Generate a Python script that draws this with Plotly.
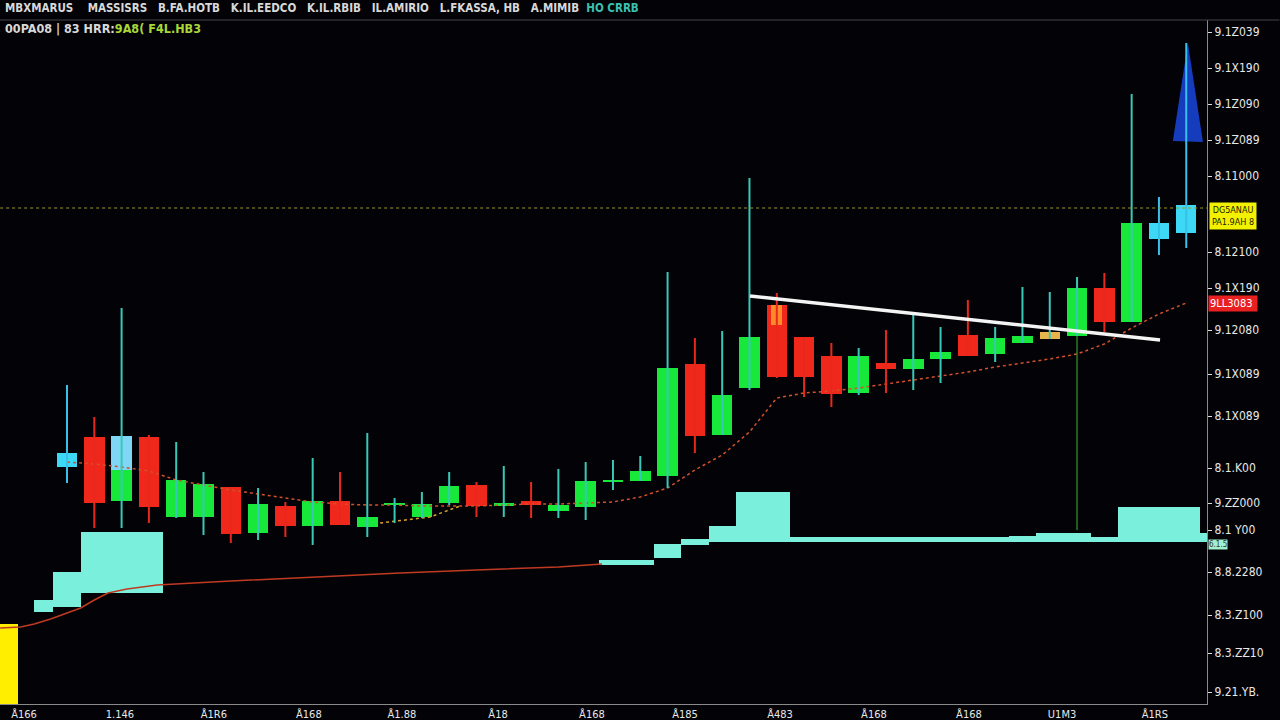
import plotly.graph_objects as go

# ---------------- data ----------------
opens  = [233,263,199,263,183,183,213,167,194,174,199,173,195,183,197,215,194,199,189,193,
          218,219,224,336,265,312,395,363,344,307,337,331,341,365,346,357,361,364,412,378,461,467]
highs  = [315,283,392,265,258,228,213,212,198,242,228,267,202,208,228,218,234,218,231,238,
          240,244,428,362,369,522,407,363,357,352,370,385,373,400,373,413,408,423,427,606,503,657]
lows   = [217,172,172,177,182,165,157,160,163,155,175,163,177,182,195,183,183,182,182,180,
          210,219,212,247,265,310,322,303,293,305,307,310,317,344,338,357,361,364,368,378,445,452]
closes = [247,197,264,193,220,216,166,196,174,199,175,183,197,196,214,194,197,195,195,219,
          220,229,332,264,305,363,323,323,306,344,331,341,348,344,362,364,368,412,378,477,477,495]
kinds  = ['cyan','down','up','down','up','up','down','up','down','up','down','up','up','up','up',
          'down','up','down','up','up','up','up','up','down','up','up','down','down','down','up',
          'down','up','up','down','up','up','gold','up','down','up','cyan','cyan']

ma1 = [238,236,233,229,220,215,210,206,202,198,196,195,195,194,194,194,195,196,196,197,
       198,203,212,230,245,268,302,307,309,312,316,320,324,328,333,337,341,346,356,372,386,397]

ma2_x = [-2.45,-1.7,-1.2,-0.6,0.0,0.5,1.0,1.5,2.2,3.3,6.0,9.0,12.2,15.0,18.0,19.6]
ma2_y = [72,73,76,81,87,92,100,107,111,115,119,123,127,130,133,136]

ma3_x = [11.47,12.5,13.3,14.4]
ma3_y = [177,180,183,194]

vol_x  = [-0.86,0,1,2,3,20,21,22,23,24,25,26,27,28,29,30,31,32,33,34,35,36,37,38,39,40,41,42]
vol_w  = [0.7]+[1.0]*27
vol_lo = [88,93,107,107,107,135,135,142,155,158,158,158,158,158,158,158,158,158,158,158,158,158,158,158,158,158,158,158]
vol_hi = [100,128,168,168,168,140,140,156,161,174,208,208,163,163,163,163,163,163,163,163,164,167,167,163,193,193,193,167]

side_x, side_w, side_lo, side_hi = [-2.12], [0.66], [-4], [76]

hl_x = [2, 26]
hl_w = [0.74, 0.4]
hl_lo = [230, 375]
hl_hi = [264, 395]
hl_col = ['#7fd6f5', '#ff8a2a']

tail_x, tail_lo, tail_hi = [37], [170], [364]

level = 492
trend_x = [25.02, 40.04]
trend_y = [404, 360]
spike_x = [40.51, 41.06, 41.61, 40.51]
spike_y = [559, 657, 558, 559]

ytick_vals = [668,632,596,560,524,448,412,370,326,284,232,197,170,128,85,47,8]
ytick_text = ['9.1Z039','9.1X190','9.1Z090','9.1Z089','8.11000','8.12100','9.1X190','9.12080',
              '9.1X089','8.1X089','8.1.K00','9.ZZ000','8.1 Y00','8.8.2280','8.3.Z100','8.3.ZZ10','9.21.YB.']
xtick_vals = [-1.575,1.94,5.38,8.86,12.27,15.79,19.23,22.64,26.12,29.56,33.04,36.45,39.85]
xtick_text = ['Å166','1.146','Å1R6','Å168','Å1.88','Å18','Å168','Å185','Å483','Å168','Å168','U1M3','Å1RS']

# ---------------- figure ----------------
BODY = {'up': '#18e83a', 'down': '#f0281c', 'cyan': '#3cd8f5', 'gold': '#e6b44a'}
WICK = {'up': '#38c8b8', 'down': '#e8281c', 'cyan': '#38c0e8', 'gold': '#40c8c0'}
idx = list(range(len(opens)))

fig = go.Figure()

fig.add_trace(go.Scatter(x=ma2_x, y=ma2_y, mode='lines', line=dict(color='#c03a22', width=1.5), hoverinfo='skip'))

fig.add_trace(go.Bar(x=vol_x, width=vol_w, base=vol_lo, y=[h - l for h, l in zip(vol_hi, vol_lo)],
                     marker=dict(color='#7af0dc', line=dict(width=0)), hoverinfo='skip'))
fig.add_trace(go.Bar(x=side_x, width=side_w, base=side_lo, y=[h - l for h, l in zip(side_hi, side_lo)],
                     marker=dict(color='#ffee00', line=dict(width=0)), hoverinfo='skip'))

fig.add_trace(go.Scatter(x=idx, y=ma1, mode='lines', line=dict(color='#d2502a', width=1.5, dash='dot'), hoverinfo='skip'))
fig.add_trace(go.Scatter(x=ma3_x, y=ma3_y, mode='lines', line=dict(color='#d8a030', width=1.5, dash='dot'), hoverinfo='skip'))

fig.add_trace(go.Scatter(x=spike_x, y=spike_y, mode='lines', fill='toself', fillcolor='rgba(25,70,220,0.85)',
                         line=dict(width=0, color='rgba(25,70,220,0.85)'), hoverinfo='skip'))

# tail
tx, ty = [], []
for x, lo, hi in zip(tail_x, tail_lo, tail_hi):
    tx += [x, x, None]; ty += [lo, hi, None]
fig.add_trace(go.Scatter(x=tx, y=ty, mode='lines', line=dict(color='rgba(60,170,60,0.55)', width=2), hoverinfo='skip'))

# wicks
for k in ['up', 'down', 'cyan', 'gold']:
    wx, wy = [], []
    for i in idx:
        if kinds[i] == k:
            wx += [i, i, None]; wy += [lows[i], highs[i], None]
    fig.add_trace(go.Scatter(x=wx, y=wy, mode='lines', line=dict(color=WICK[k], width=2), hoverinfo='skip'))

# bodies
for k in ['up', 'down', 'cyan', 'gold']:
    sel = [i for i in idx if kinds[i] == k]
    fig.add_trace(go.Bar(x=sel, width=0.75, base=[min(opens[i], closes[i]) for i in sel],
                         y=[max(abs(closes[i] - opens[i]), 2) for i in sel],
                         marker=dict(color=BODY[k], line=dict(width=0)), hoverinfo='skip'))

fig.add_trace(go.Bar(x=hl_x, width=hl_w, base=hl_lo, y=[h - l for h, l in zip(hl_hi, hl_lo)],
                     marker=dict(color=hl_col, line=dict(width=0)), hoverinfo='skip'))

fig.add_trace(go.Scatter(x=[-2.45, 41.76], y=[level, level], mode='lines',
                         line=dict(color='#9a9a22', width=1, dash='dot'), hoverinfo='skip'))
fig.add_trace(go.Scatter(x=trend_x, y=trend_y, mode='lines', line=dict(color='#f4f4f4', width=3.5), hoverinfo='skip'))

FONT = 'Liberation Sans Narrow, DejaVu Sans Condensed, Arial Narrow, sans-serif'

fig.update_layout(
    width=1280, height=720,
    margin=dict(l=0, r=73, t=20, b=16),
    paper_bgcolor='#030307', plot_bgcolor='#030307',
    showlegend=False, barmode='overlay', bargap=0,
    xaxis=dict(range=[-2.454, 41.76], showgrid=False, zeroline=False,
               tickvals=xtick_vals, ticktext=xtick_text, ticks='',
               tickfont=dict(color='#e8e8e8', size=11, family=FONT),
               showline=True, linecolor='#8a8a8a', linewidth=1),
    yaxis=dict(range=[-4, 680], side='right', showgrid=False, zeroline=False,
               tickvals=ytick_vals, ticktext=ytick_text, ticks='outside', ticklen=4,
               tickcolor='#dddddd', tickfont=dict(color='#e8e8e8', size=12, family=FONT),
               showline=True, linecolor='#8a8a8a', linewidth=1),
)

# header text
hdr1 = ("<b>MBXMARUS &nbsp;&nbsp; MASSISRS &nbsp; B.FA.HOTB &nbsp; K.IL.EEDCO &nbsp; K.IL.RBIB &nbsp; "
        "IL.AMIRIO &nbsp; L.FKASSA, HB &nbsp; A.MIMIB &nbsp;<span style='color:#3cc0b0'>HO CRRB</span></b>")
fig.add_annotation(xref='paper', yref='paper', x=0, y=1, xanchor='left', yanchor='middle', xshift=3, yshift=12,
                   text=hdr1, showarrow=False, font=dict(color='#d8d8d8', size=11.5, family=FONT))
hdr2 = "<b>00PA08 | 83 HRR:<span style='color:#a8d838'>9A8( F4L.HB3</span></b>"
fig.add_annotation(xref='paper', yref='paper', x=0, y=1, xanchor='left', yanchor='middle', xshift=3, yshift=-8,
                   text=hdr2, showarrow=False, font=dict(color='#d8d8d8', size=12.5, family=FONT))

fig.add_shape(type='line', xref='paper', yref='paper', x0=0, x1=1.06, y0=1.0, y1=1.0,
              line=dict(color='#444444', width=1))

# price labels on right axis
fig.add_annotation(xref='paper', yref='y', x=1, y=484, xanchor='left', yanchor='middle', xshift=2,
                   text='DG5ANAU<br>PA1.9AH 8', showarrow=False, bgcolor='#f2f200', borderpad=2,
                   font=dict(color='#222200', size=9, family=FONT))
fig.add_annotation(xref='paper', yref='y', x=1, y=397, xanchor='left', yanchor='middle', xshift=1,
                   text='9LL3083 ', showarrow=False, bgcolor='#e82020', borderpad=1,
                   font=dict(color='#ffffff', size=11, family=FONT))
fig.add_annotation(xref='paper', yref='y', x=1, y=156, xanchor='left', yanchor='middle', xshift=1,
                   text='6.1.5', showarrow=False, bgcolor='#a0f0d0', borderpad=0,
                   font=dict(color='#333333', size=8, family=FONT))

fig.write_html("out.html", config={'displayModeBar': False},
               post_script="document.body.style.margin='0';document.body.style.overflow='hidden';")
